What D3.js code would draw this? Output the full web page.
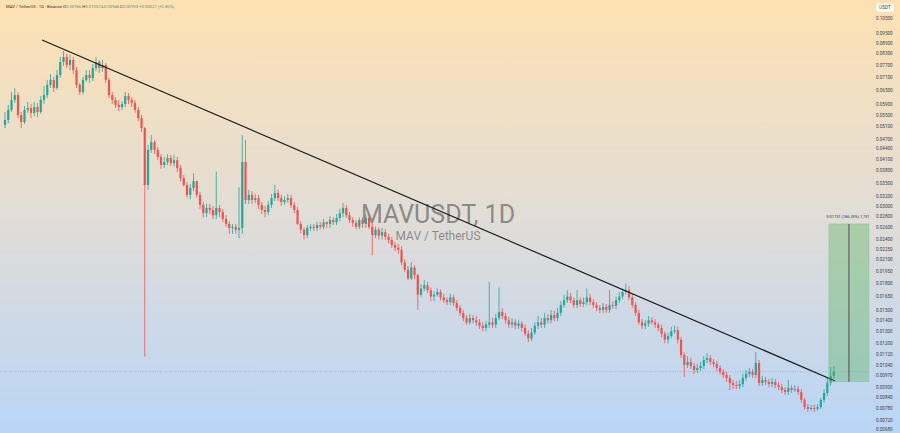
<!DOCTYPE html>
<html><head><meta charset="utf-8">
<script src="https://cdn.jsdelivr.net/npm/d3@7"></script>
<style>html,body{margin:0;padding:0;overflow:hidden;background:#fff}svg{display:block}</style>
</head><body>
<svg id="c" width="900" height="433"></svg>
<script>
// ---------- DATA (MAV / TetherUS, 1D candles) ----------
const symbol = "MAV / TetherUS · 1D · Binance";
const watermarkTitle = "MAVUSDT, 1D";
const watermarkSub = "MAV / TetherUS";
const currency = "USDT";
const firstOpen = 0.0515;
const closes = [
0.0532,0.0569,0.0608,0.0628,0.0550,0.0525,0.0569,0.0576,0.0558,0.0580,
0.0561,0.0608,0.0628,0.0672,0.0695,0.0659,0.0718,0.0783,0.0810,0.0768,
0.0794,0.0742,0.0672,0.0641,0.0695,0.0718,0.0704,0.0752,0.0783,0.0752,
0.0768,0.0695,0.0628,0.0608,0.0588,0.0580,0.0592,0.0624,0.0608,0.0596,
0.0569,0.0539,0.0504,0.0345,0.0436,0.0459,0.0436,0.0416,0.0394,0.0402,
0.0413,0.0399,0.0407,0.0386,0.0361,0.0345,0.0323,0.0338,0.0354,0.0323,
0.0302,0.0286,0.0296,0.0292,0.0282,0.0296,0.0288,0.0275,0.0266,0.0259,
0.0261,0.0256,0.0259,0.0402,0.0312,0.0323,0.0312,0.0316,0.0302,0.0292,
0.0288,0.0302,0.0316,0.0327,0.0316,0.0308,0.0312,0.0316,0.0302,0.0292,
0.0266,0.0256,0.0247,0.0259,0.0261,0.0259,0.0264,0.0261,0.0269,0.0266,
0.0273,0.0269,0.0277,0.0286,0.0296,0.0282,0.0273,0.0268,0.0261,0.0273,
0.0266,0.0277,0.0261,0.0247,0.0256,0.0246,0.0252,0.0244,0.0239,0.0231,
0.0227,0.0224,0.0206,0.0196,0.0185,0.0199,0.0189,0.0166,0.0173,0.0177,
0.0171,0.0164,0.0166,0.0169,0.0163,0.0160,0.0158,0.0163,0.0157,0.0152,
0.0147,0.0142,0.0138,0.0142,0.0140,0.0138,0.0135,0.0133,0.0136,0.0138,
0.0136,0.0142,0.0148,0.0144,0.0140,0.0136,0.0138,0.0135,0.0137,0.0133,
0.0128,0.0124,0.0129,0.0135,0.0138,0.0136,0.0142,0.0140,0.0145,0.0142,
0.0147,0.0155,0.0160,0.0164,0.0160,0.0155,0.0160,0.0156,0.0158,0.0163,
0.0158,0.0155,0.0152,0.0150,0.0153,0.0150,0.0155,0.0154,0.0160,0.0164,
0.0169,0.0171,0.0163,0.0155,0.0147,0.0138,0.0135,0.0137,0.0140,0.0138,
0.0136,0.0133,0.0128,0.0123,0.0126,0.0130,0.0131,0.0123,0.0111,0.01039,
0.01060,0.01032,0.01005,0.01018,0.01032,0.01074,0.01088,0.01060,0.01046,0.01018,
0.00992,0.00972,0.00953,0.00922,0.00909,0.00903,0.00915,0.00953,0.00979,0.00992,
0.00972,0.01053,0.00922,0.00940,0.00928,0.00915,0.00928,0.00909,0.00897,0.00879,
0.00868,0.00891,0.00879,0.00885,0.00868,0.00823,0.00785,0.00775,0.00780,0.00775,
0.00785,0.00823,0.00862,0.00922,0.00966,0.00993];
const highs = [
0.0561,0.0588,0.0641,0.0658,0.0641,0.0561,0.0584,0.0600,0.0592,0.0600,
0.0596,0.0624,0.0667,0.0695,0.0722,0.0709,0.0742,0.0810,0.0843,0.0826,
0.0821,0.0810,0.0758,0.0681,0.0709,0.0742,0.0742,0.0773,0.0810,0.0794,
0.0794,0.0778,0.0704,0.0641,0.0620,0.0608,0.0604,0.0641,0.0637,0.0620,
0.0608,0.0580,0.0550,0.0508,0.0450,0.0481,0.0466,0.0444,0.0424,0.0416,
0.0424,0.0421,0.0421,0.0416,0.0394,0.0369,0.0352,0.0347,0.0373,0.0354,
0.0329,0.0308,0.0304,0.0304,0.0300,0.0377,0.0302,0.0294,0.0282,0.0271,
0.0266,0.0266,0.0340,0.0481,0.0466,0.0334,0.0331,0.0325,0.0323,0.0308,
0.0300,0.0310,0.0325,0.0345,0.0334,0.0323,0.0320,0.0325,0.0323,0.0308,
0.0298,0.0271,0.0260,0.0264,0.0266,0.0266,0.0270,0.0270,0.0275,0.0271,
0.0280,0.0278,0.0284,0.0294,0.0306,0.0302,0.0288,0.0278,0.0273,0.0278,
0.0278,0.0284,0.0282,0.0268,0.0261,0.0260,0.0259,0.0257,0.0249,0.0244,
0.0236,0.0233,0.0229,0.0210,0.0201,0.0206,0.0202,0.0191,0.0178,0.0183,
0.0181,0.0174,0.0170,0.0173,0.0172,0.0167,0.0163,0.0167,0.0166,0.0160,
0.0155,0.0150,0.0145,0.0146,0.0145,0.0144,0.0141,0.0138,0.0139,0.0181,
0.0142,0.0146,0.0174,0.0152,0.0147,0.0143,0.0142,0.0141,0.0140,0.0139,
0.0136,0.0131,0.0133,0.0138,0.0144,0.0142,0.0147,0.0146,0.0150,0.0149,
0.0152,0.0159,0.0166,0.0171,0.0168,0.0163,0.0171,0.0163,0.0163,0.0173,
0.0167,0.0161,0.0158,0.0155,0.0157,0.0156,0.0171,0.0159,0.0164,0.0169,
0.0173,0.0179,0.0176,0.0167,0.0158,0.0150,0.0141,0.0140,0.0144,0.0143,
0.0141,0.0138,0.0136,0.0130,0.0129,0.0134,0.0135,0.0134,0.0125,0.0113,
0.0110,0.0109,0.01053,0.01046,0.0106,0.01103,0.01125,0.01110,0.01081,0.01067,
0.01039,0.01012,0.00992,0.00972,0.00940,0.00934,0.00940,0.00979,0.01005,0.01018,
0.01012,0.01133,0.01074,0.00966,0.00959,0.00946,0.00953,0.00946,0.00928,0.00915,
0.00897,0.00940,0.00909,0.00909,0.00903,0.00885,0.00834,0.00801,0.00796,0.00796,
0.00801,0.00834,0.00885,0.00953,0.01025,0.01032];
const lows = [
0.0504,0.0521,0.0561,0.0596,0.0539,0.0504,0.0518,0.0558,0.0539,0.0546,
0.0543,0.0554,0.0592,0.0616,0.0659,0.0641,0.0650,0.0704,0.0763,0.0752,
0.0742,0.0723,0.0659,0.0628,0.0632,0.0686,0.0681,0.0690,0.0737,0.0728,
0.0733,0.0681,0.0616,0.0592,0.0576,0.0565,0.0569,0.0580,0.0592,0.0580,
0.0558,0.0528,0.0491,0.0110,0.0334,0.0427,0.0424,0.0407,0.0384,0.0386,
0.0394,0.0391,0.0391,0.0376,0.0354,0.0341,0.0317,0.0314,0.0331,0.0317,
0.0294,0.0278,0.0278,0.0284,0.0275,0.0275,0.0278,0.0269,0.0261,0.0249,
0.0249,0.0249,0.0242,0.0249,0.0304,0.0304,0.0304,0.0306,0.0294,0.0284,
0.0278,0.0282,0.0296,0.0310,0.0310,0.0300,0.0302,0.0306,0.0296,0.0286,
0.0264,0.0250,0.0240,0.0242,0.0254,0.0254,0.0254,0.0257,0.0257,0.0259,
0.0259,0.0264,0.0264,0.0271,0.0278,0.0277,0.0268,0.0261,0.0257,0.0257,
0.0259,0.0259,0.0257,0.0216,0.0242,0.0240,0.0240,0.0239,0.0234,0.0227,
0.0222,0.0218,0.0202,0.0193,0.0183,0.0183,0.0184,0.0150,0.0164,0.0170,
0.0168,0.0159,0.0159,0.0164,0.0160,0.0157,0.0155,0.0155,0.0154,0.0149,
0.0144,0.0139,0.0136,0.0136,0.0137,0.0135,0.0132,0.0130,0.0130,0.0133,
0.0133,0.0133,0.0140,0.0141,0.0137,0.0133,0.0133,0.0132,0.0132,0.0130,
0.0126,0.0121,0.0122,0.0127,0.0132,0.0133,0.0133,0.0137,0.0137,0.0139,
0.0139,0.0144,0.0152,0.0157,0.0157,0.0152,0.0152,0.0153,0.0153,0.0155,
0.0155,0.0152,0.0149,0.0147,0.0147,0.0147,0.0147,0.0151,0.0151,0.0157,
0.0161,0.0166,0.0160,0.0152,0.0144,0.0136,0.0132,0.0132,0.0134,0.0136,
0.0133,0.0130,0.0125,0.0120,0.0120,0.0124,0.0128,0.0120,0.0109,0.00959,
0.01018,0.01012,0.00979,0.00985,0.00998,0.01012,0.01053,0.01039,0.01025,0.00998,
0.00972,0.00953,0.00928,0.00879,0.00885,0.00885,0.00885,0.00897,0.00934,0.00959,
0.00953,0.00953,0.00903,0.00903,0.00909,0.00897,0.00897,0.00891,0.00879,0.00862,
0.00851,0.00851,0.00862,0.00868,0.00851,0.00807,0.00770,0.00760,0.00765,0.00760,
0.00765,0.00775,0.00807,0.00845,0.00903,0.00946];
const yTicks = [0.105,0.095,0.089,0.083,0.077,0.071,0.065,0.059,0.055,0.051,0.047,0.044,0.041,0.038,0.035,0.032,0.030,0.028,0.026,0.024,0.0225,0.021,0.0195,0.018,0.0165,0.015,0.014,0.013,0.012,0.0112,0.0104,0.0097,0.009,0.0084,0.0078,0.0072,0.0068];
// drawn trend line anchors (bar index, price)
const trendIdx = [11.4, 255.4];
const trendPrice = [0.0907, 0.00934];
// price-range measure (bar index span, price span)
const measureIdx = [253.5, 265.8];
const measurePrice = [0.00929, 0.0266];

// ---------- LAYOUT ----------
const W = 900, H = 433, plotRight = 866;
const svg = d3.select("#c");
const x = d3.scaleLinear().domain([-1.54, 264.9]).range([0, plotRight]);
const y = d3.scaleLog().domain([0.105, 0.0072]).range([18, 420]);
const UP = "#26a69a", DOWN = "#ef5350";

const defs = svg.append("defs");
const g = defs.append("linearGradient").attr("id","bg").attr("x1",0).attr("y1",0).attr("x2",0).attr("y2",1);
g.append("stop").attr("offset","0%").attr("stop-color","#fee1b2");
g.append("stop").attr("offset","50%").attr("stop-color","#e1ddd7");
g.append("stop").attr("offset","100%").attr("stop-color","#b9d5f7");
defs.append("clipPath").attr("id","plot").append("rect").attr("x",0).attr("y",0).attr("width",plotRight).attr("height",H);

svg.append("rect").attr("width",W).attr("height",H).attr("fill","url(#bg)");

// watermark
svg.append("text").attr("x",438).attr("y",223).attr("text-anchor","middle")
  .attr("font-family","Roboto, 'Noto Sans', sans-serif").attr("font-size",25)
  .attr("fill","#7a7a7a").attr("fill-opacity",0.85).text(watermarkTitle);
svg.append("text").attr("x",438).attr("y",240).attr("text-anchor","middle")
  .attr("font-family","Roboto, 'Noto Sans', sans-serif").attr("font-size",12)
  .attr("fill","#7a7a7a").attr("fill-opacity",0.85).text(watermarkSub);

const bars = closes.map((c,i)=>({i, o: i?closes[i-1]:firstOpen, h: highs[i], l: lows[i], c}));
const last = bars[bars.length-1];

const plot = svg.append("g").attr("clip-path","url(#plot)");

// last price line
plot.append("line").attr("x1",0).attr("x2",plotRight).attr("y1",y(last.c)).attr("y2",y(last.c))
  .attr("stroke","#8a9aa8").attr("stroke-width",0.6).attr("stroke-dasharray","1,1.5");

// candles
const cg = plot.append("g");
cg.selectAll("line.w").data(bars).join("line").attr("class","w")
  .attr("x1",d=>x(d.i)).attr("x2",d=>x(d.i)).attr("y1",d=>y(d.h)).attr("y2",d=>y(d.l))
  .attr("stroke",d=>d.c>=d.o?UP:DOWN).attr("stroke-width",0.8);
cg.selectAll("rect.b").data(bars).join("rect").attr("class","b")
  .attr("x",d=>x(d.i)-1.1).attr("width",2.2)
  .attr("y",d=>y(Math.max(d.o,d.c)))
  .attr("height",d=>Math.max(0.8, y(Math.min(d.o,d.c))-y(Math.max(d.o,d.c))))
  .attr("fill",d=>d.c>=d.o?UP:DOWN);

// trend line
svg.append("line").attr("x1",x(trendIdx[0])).attr("y1",y(trendPrice[0]))
  .attr("x2",x(trendIdx[1])).attr("y2",y(trendPrice[1]))
  .attr("stroke","#1a1a1a").attr("stroke-width",1.2);

// measure box
const mx0 = x(measureIdx[0]), mx1 = x(measureIdx[1]);
const my0 = y(measurePrice[1]), my1 = y(measurePrice[0]);
svg.append("rect").attr("x",mx0).attr("y",my0).attr("width",mx1-mx0).attr("height",my1-my0)
  .attr("fill","#4caf50").attr("fill-opacity",0.35).attr("stroke","#7cc68a").attr("stroke-width",0.5);
svg.append("line").attr("x1",(mx0+mx1)/2).attr("x2",(mx0+mx1)/2).attr("y1",my0).attr("y2",my1)
  .attr("stroke","#333").attr("stroke-width",0.8);
const diff = measurePrice[1]-measurePrice[0];
svg.append("text").attr("x",(mx0+mx1)/2-1).attr("y",my0-6).attr("text-anchor","middle")
  .attr("font-family","Roboto, sans-serif").attr("font-size",3.9).attr("fill","#333")
  .text(`${diff.toFixed(5)} (${(diff/measurePrice[0]*100).toFixed(2)}%) ${d3.format(",")(Math.round(diff*1e5))}`);

// right axis
const ax = svg.append("g").attr("transform",`translate(${plotRight+8},0)`)
  .call(d3.axisRight(y).tickValues(yTicks).tickFormat(d3.format(".5f")).tickSize(0).tickPadding(2));
ax.select(".domain").remove();
ax.selectAll("text").attr("font-family","Roboto, sans-serif").attr("font-size",4.6).attr("fill","#444");

// currency tag
svg.append("rect").attr("x",876).attr("y",3).attr("width",18).attr("height",9).attr("fill","#fff").attr("fill-opacity",0.8)
  .attr("stroke","#ddd").attr("stroke-width",0.4);
svg.append("text").attr("x",885).attr("y",9.3).attr("text-anchor","middle")
  .attr("font-family","Roboto, sans-serif").attr("font-size",4.6).attr("fill","#444").text(currency);

// header legend
const f5 = d3.format(".5f");
const chg = last.c - last.o;
const hdr = svg.append("text").attr("x",6).attr("y",7.5).attr("font-family","Roboto, sans-serif").attr("font-size",4.2).attr("fill","#333");
hdr.append("tspan").text(symbol + "  ");
const col = last.c>=last.o?UP:DOWN;
[["O",last.o],["H",last.h],["L",last.l],["C",last.c]].forEach(([k,v])=>{
  hdr.append("tspan").attr("fill","#333").text(" "+k);
  hdr.append("tspan").attr("fill",col).text(f5(v));
});
hdr.append("tspan").attr("fill",col).text(` ${chg>=0?"+":""}${f5(chg)} (${chg>=0?"+":""}${(chg/last.o*100).toFixed(2)}%)`);
</script>
</body></html>
